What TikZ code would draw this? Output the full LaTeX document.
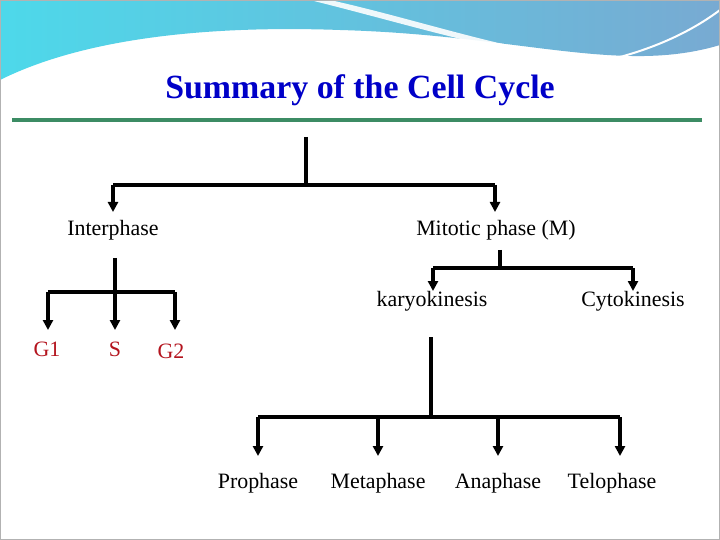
\documentclass[tikz,border=0pt]{standalone}
\usepackage{fontspec}
\setmainfont{Liberation Serif}
\usetikzlibrary{arrows.meta}
\definecolor{ttl}{RGB}{0,0,200}
\definecolor{grn}{RGB}{60,140,100}
\definecolor{gred}{RGB}{180,20,30}
\definecolor{wave1}{RGB}{110,200,225}
\definecolor{wave2}{RGB}{120,170,210}
\begin{document}
\begin{tikzpicture}[x=1bp,y=-1bp,
  lbl/.style={font=\fontsize{22}{26}\selectfont,inner sep=0pt},
  glbl/.style={lbl,text=gred},
  link/.style={line width=3.2bp},
  arr/.style={line width=3.2bp,-{Triangle[width=10bp,length=10bp]}}]
\useasboundingbox (0,0) rectangle (720,540);
\fill[white] (0,0) rectangle (720,540);
\shade[left color=wave1!70!cyan, right color=wave2]
  (0,0) -- (720,0) -- (720,45) .. controls (620,75) and (520,35) .. (340,30)
  .. controls (200,25) and (80,40) .. (0,80) -- cycle;
\fill[white,opacity=0.9] (330,0) .. controls (420,20) and (520,55) .. (600,60)
  .. controls (520,60) and (430,30) .. (310,0) -- cycle;
\draw[white,line width=2bp] (0,95) .. controls (150,40) and (300,45) .. (420,70) .. controls (520,80) and (640,70) .. (720,10);
\draw[gray!60,line width=1bp] (0.5,0.5) rectangle (719.5,539.5);
\node[font=\bfseries\fontsize{34}{38}\selectfont,text=ttl] (title) at (360,90) {Summary of the Cell Cycle};
\draw[grn,line width=4bp] (12,120) coordinate (gl) -- (702,120) coordinate (gr);
% level 1
\coordinate (r0) at (306,137); \coordinate (r1) at (306,185);
\coordinate (h1a) at (113,185); \coordinate (h1b) at (495,185);
\node[lbl] (inter) at (113,230) {Interphase};
\node[lbl] (mito) at (496,230) {Mitotic phase (M)};
\draw[link] (r0) -- (r1);
\draw[link] (h1a) -- (h1b);
\draw[arr] (h1a) -- (113,212);
\draw[arr] (h1b) -- (495,212);
% interphase
\coordinate (i0) at (115,258); \coordinate (i1) at (115,292);
\coordinate (ia) at (48,292); \coordinate (ic) at (175,292);
\node[glbl] (g1) at (47,349) {G1};
\node[glbl] (s) at (115,349) {S};
\node[glbl] (g2) at (171,351) {G2};
\draw[link] (i0) -- (i1);
\draw[link] (ia) -- (ic);
\draw[arr] (ia) -- (48,330);
\draw[arr] (i1) -- (115,330);
\draw[arr] (ic) -- (175,330);
% mitotic
\coordinate (m0) at (500,250); \coordinate (m1) at (500,268);
\coordinate (ma) at (433,268); \coordinate (mb) at (633,268);
\node[lbl] (karyo) at (432,301) {karyokinesis};
\node[lbl] (cyto) at (633,301) {Cytokinesis};
\draw[link] (m0) -- (m1);
\draw[link] (ma) -- (mb);
\draw[arr] (ma) -- (433,291);
\draw[arr] (mb) -- (633,291);
% karyokinesis
\coordinate (k0) at (431,337); \coordinate (k1) at (431,417);
\coordinate (ka) at (258,417); \coordinate (kd) at (620,417);
\node[lbl] (pro) at (258,483) {Prophase};
\node[lbl] (meta) at (378,483) {Metaphase};
\node[lbl] (ana) at (498,483) {Anaphase};
\node[lbl] (telo) at (612,483) {Telophase};
\draw[link] (k0) -- (k1);
\draw[link] (ka) -- (kd);
\draw[arr] (ka) -- (258,456);
\draw[arr] (378,417) -- (378,456);
\draw[arr] (498,417) -- (498,456);
\draw[arr] (kd) -- (620,456);
\end{tikzpicture}
\end{document}
